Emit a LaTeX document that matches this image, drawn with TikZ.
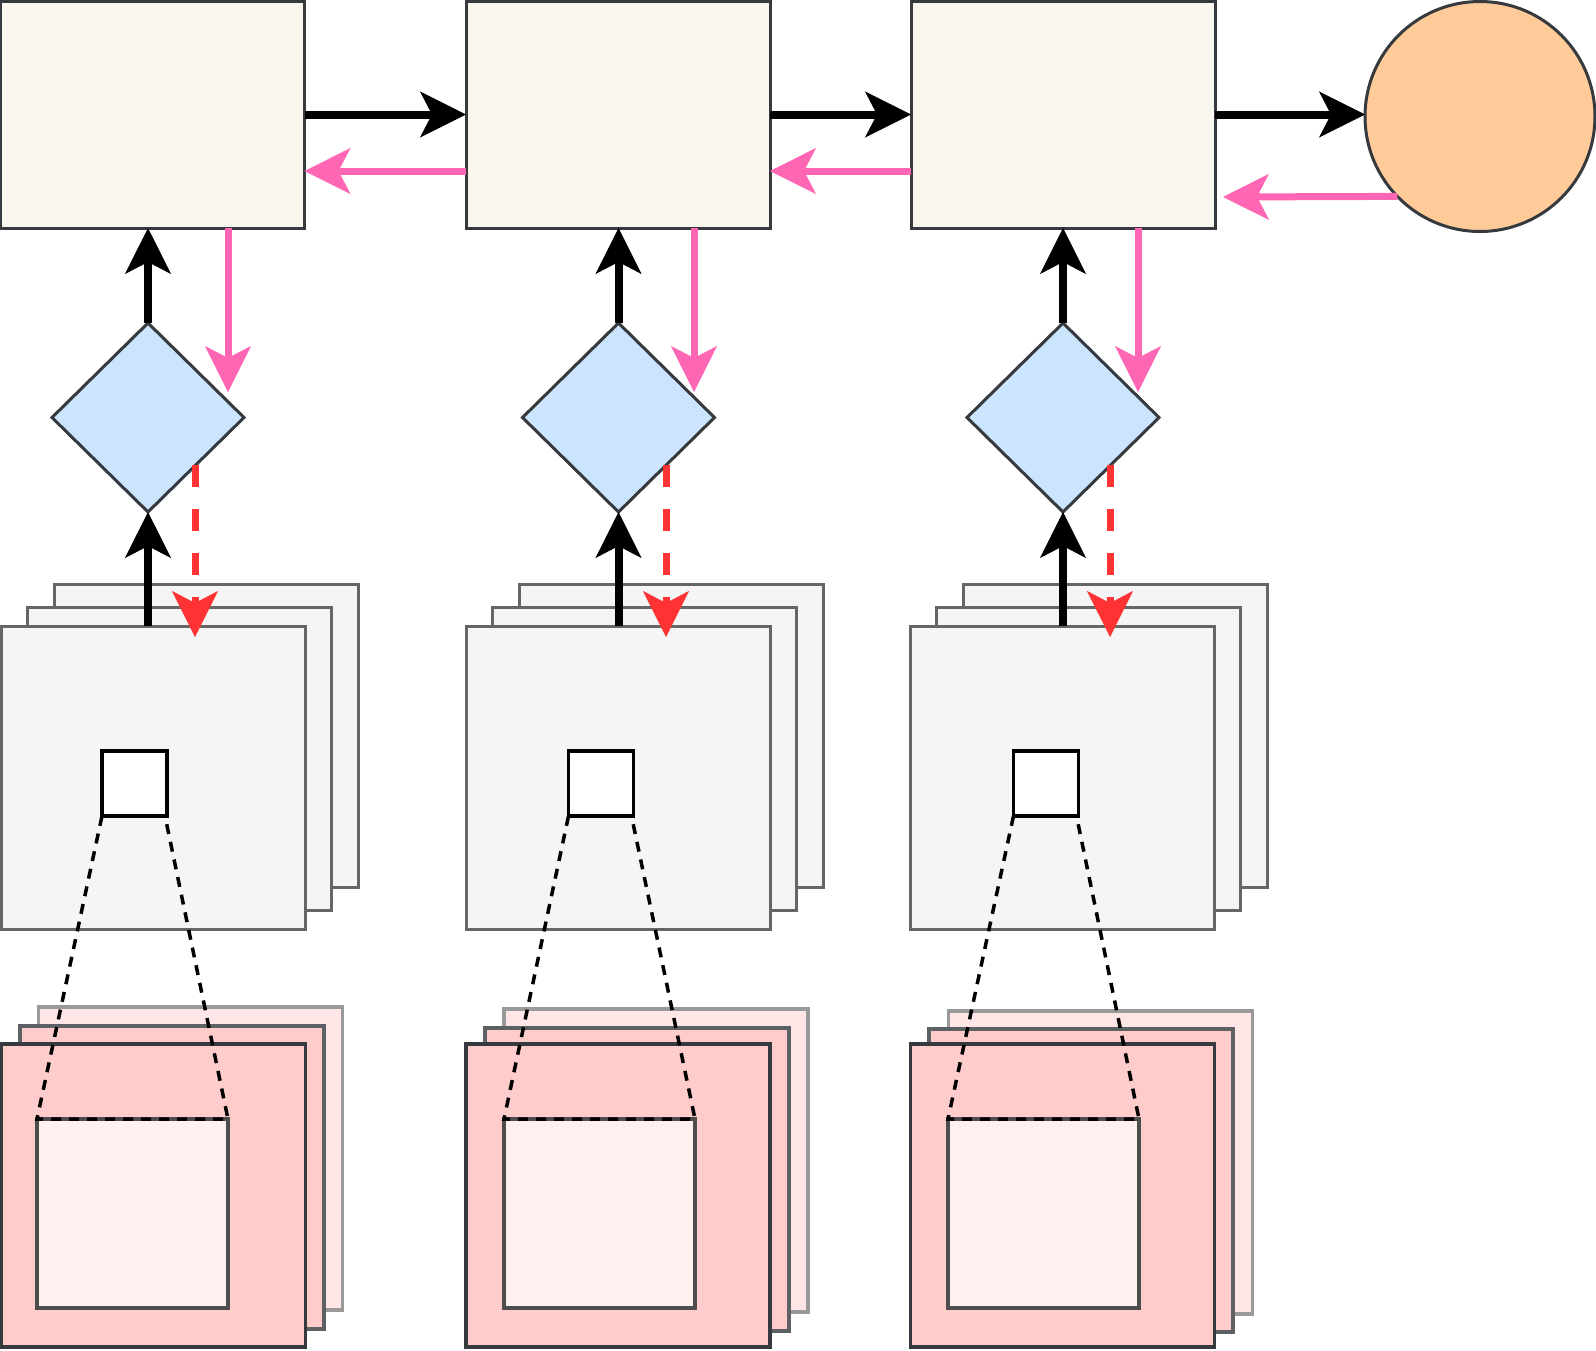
\documentclass[tikz,border=0pt]{standalone}
\usetikzlibrary{arrows.meta,shapes.geometric}
\definecolor{dk}{HTML}{36393D}
\definecolor{topfill}{HTML}{F9F7ED}
\definecolor{diafill}{HTML}{CCE5FF}
\definecolor{circfill}{HTML}{FFCC99}
\definecolor{grayfill}{HTML}{F5F5F5}
\definecolor{graystroke}{HTML}{666666}
\definecolor{pinkfill}{HTML}{FFCCCC}
\definecolor{pinkback}{HTML}{FFE6E6}
\definecolor{innerfill}{HTML}{FFF0F0}
\definecolor{innerstroke}{HTML}{4D4D4D}
\definecolor{pinkarrow}{HTML}{FF66B3}
\definecolor{redarrow}{HTML}{FF3333}
\tikzset{
  tip/.style={-{Stealth[length=46pt,width=46pt,inset=12pt,line width=0.5pt]}},
  topbox/.style={draw=dk, fill=topfill, line width=3pt, minimum width=304pt, minimum height=227pt, inner sep=0pt, outer sep=0pt},
  diabox/.style={diamond, draw=dk, fill=diafill, line width=3pt, minimum width=192pt, minimum height=189pt, inner sep=0pt, outer sep=0pt},
  circbox/.style={circle, draw=dk, fill=circfill, line width=3pt, minimum size=230pt, inner sep=0pt, outer sep=0pt},
  graybox/.style={draw=graystroke, fill=grayfill, line width=3pt, minimum width=304pt, minimum height=303pt, inner sep=0pt, outer sep=0pt},
  smallbox/.style={draw=black, fill=white, line width=3.5pt, minimum size=65pt, inner sep=0pt, outer sep=0pt},
  pinkfront/.style={draw=dk, fill=pinkfill, line width=3.5pt, minimum width=304pt, minimum height=303pt, inner sep=0pt, outer sep=0pt},
  pinkmid/.style={draw=dk!80, fill=pinkfill, line width=3.5pt, minimum width=304pt, minimum height=303pt, inner sep=0pt, outer sep=0pt},
  pinkrear/.style={draw=black!40, fill=pinkback, line width=3.5pt, minimum width=304pt, minimum height=303pt, inner sep=0pt, outer sep=0pt},
  innerbox/.style={draw=innerstroke, fill=innerfill, line width=3.5pt, minimum width=191pt, minimum height=189pt, inner sep=0pt, outer sep=0pt},
  blkarrow/.style={tip, line width=8pt, draw=black},
  pkarrow/.style={tip, line width=7pt, draw=pinkarrow},
  rdarrow/.style={tip, line width=7pt, draw=redarrow, dash pattern=on 22pt off 22pt},
  zoomline/.style={draw=black, line width=3.5pt, dash pattern=on 10pt off 8pt}
}
\begin{document}
\begin{tikzpicture}[x=1pt,y=-1pt]
\useasboundingbox (0,0) rectangle (1596,1350);

\foreach \i/\tx/\dx/\rx/\px/\fx/\sx/\mx/\my/\bx/\by/\ix in {
  1/152.5/148/195/228/1.5/134.5/18.5/-18/37/-37/132.5,
  2/618/618.5/666/694/466/601/19/-16/38/-35/599.5,
  3/1063/1063/1110/1138/910.5/1046/18.5/-15/38/-33/1043.5}{
  \node[topbox] (t\i) at (\tx,114.5) {};
  \node[diabox] (d\i) at (\dx,417.5) {};
  \node[graybox] (gb\i) at (\fx+53+152,777.5-42) {};
  \node[graybox] (gm\i) at (\fx+26+152,777.5-19) {};
  \node[graybox] (gf\i) at (\fx+152,777.5) {};
  \node[smallbox] (s\i) at (\sx,783.5) {};
  \node[pinkrear] (pb\i) at (\fx+152+\bx,1195.5+\by) {};
  \node[pinkmid] (pm\i) at (\fx+152+\mx,1195.5+\my) {};
  \node[pinkfront] (pf\i) at (\fx+152,1195.5) {};
  \node[innerbox] (in\i) at (\ix,1213.5) {};
  \draw[zoomline] (s\i.south west) -- (in\i.north west) -- (in\i.north east) -- ([xshift=-2pt]s\i.south east);
  \draw[blkarrow] (d\i.north) -- (d\i.north |- t\i.south);
  \draw[blkarrow] (d\i.south |- gf\i.north) -- (d\i.south);
  \coordinate (pd\i) at (\px,392);
  \draw[pkarrow] (t\i.south -| pd\i) -- (pd\i);
  \coordinate (rs\i) at (\rx,{512-94.5*(\rx-\dx)/95});
  \coordinate (re\i) at (\rx,637);
}

\node[circbox] (c) at (1480,116.5) {};

\draw[blkarrow] (t1.east) -- (t2.west);
\draw[blkarrow] (t2.east) -- (t3.west);
\draw[blkarrow] (t3.east) -- (t3.east -| c.west);

\draw[pkarrow] ([yshift=-56.5pt]t2.west) -- ([yshift=-56.5pt]t1.east);
\draw[pkarrow] ([yshift=-56.5pt]t3.west) -- ([yshift=-56.5pt]t2.east);
\coordinate (ce) at (1223,197);
\draw[pkarrow] (c.224) -- (ce);

\foreach \i in {1,2,3}{
  \draw[rdarrow] (rs\i) -- (re\i);
}
\end{tikzpicture}
\end{document}
